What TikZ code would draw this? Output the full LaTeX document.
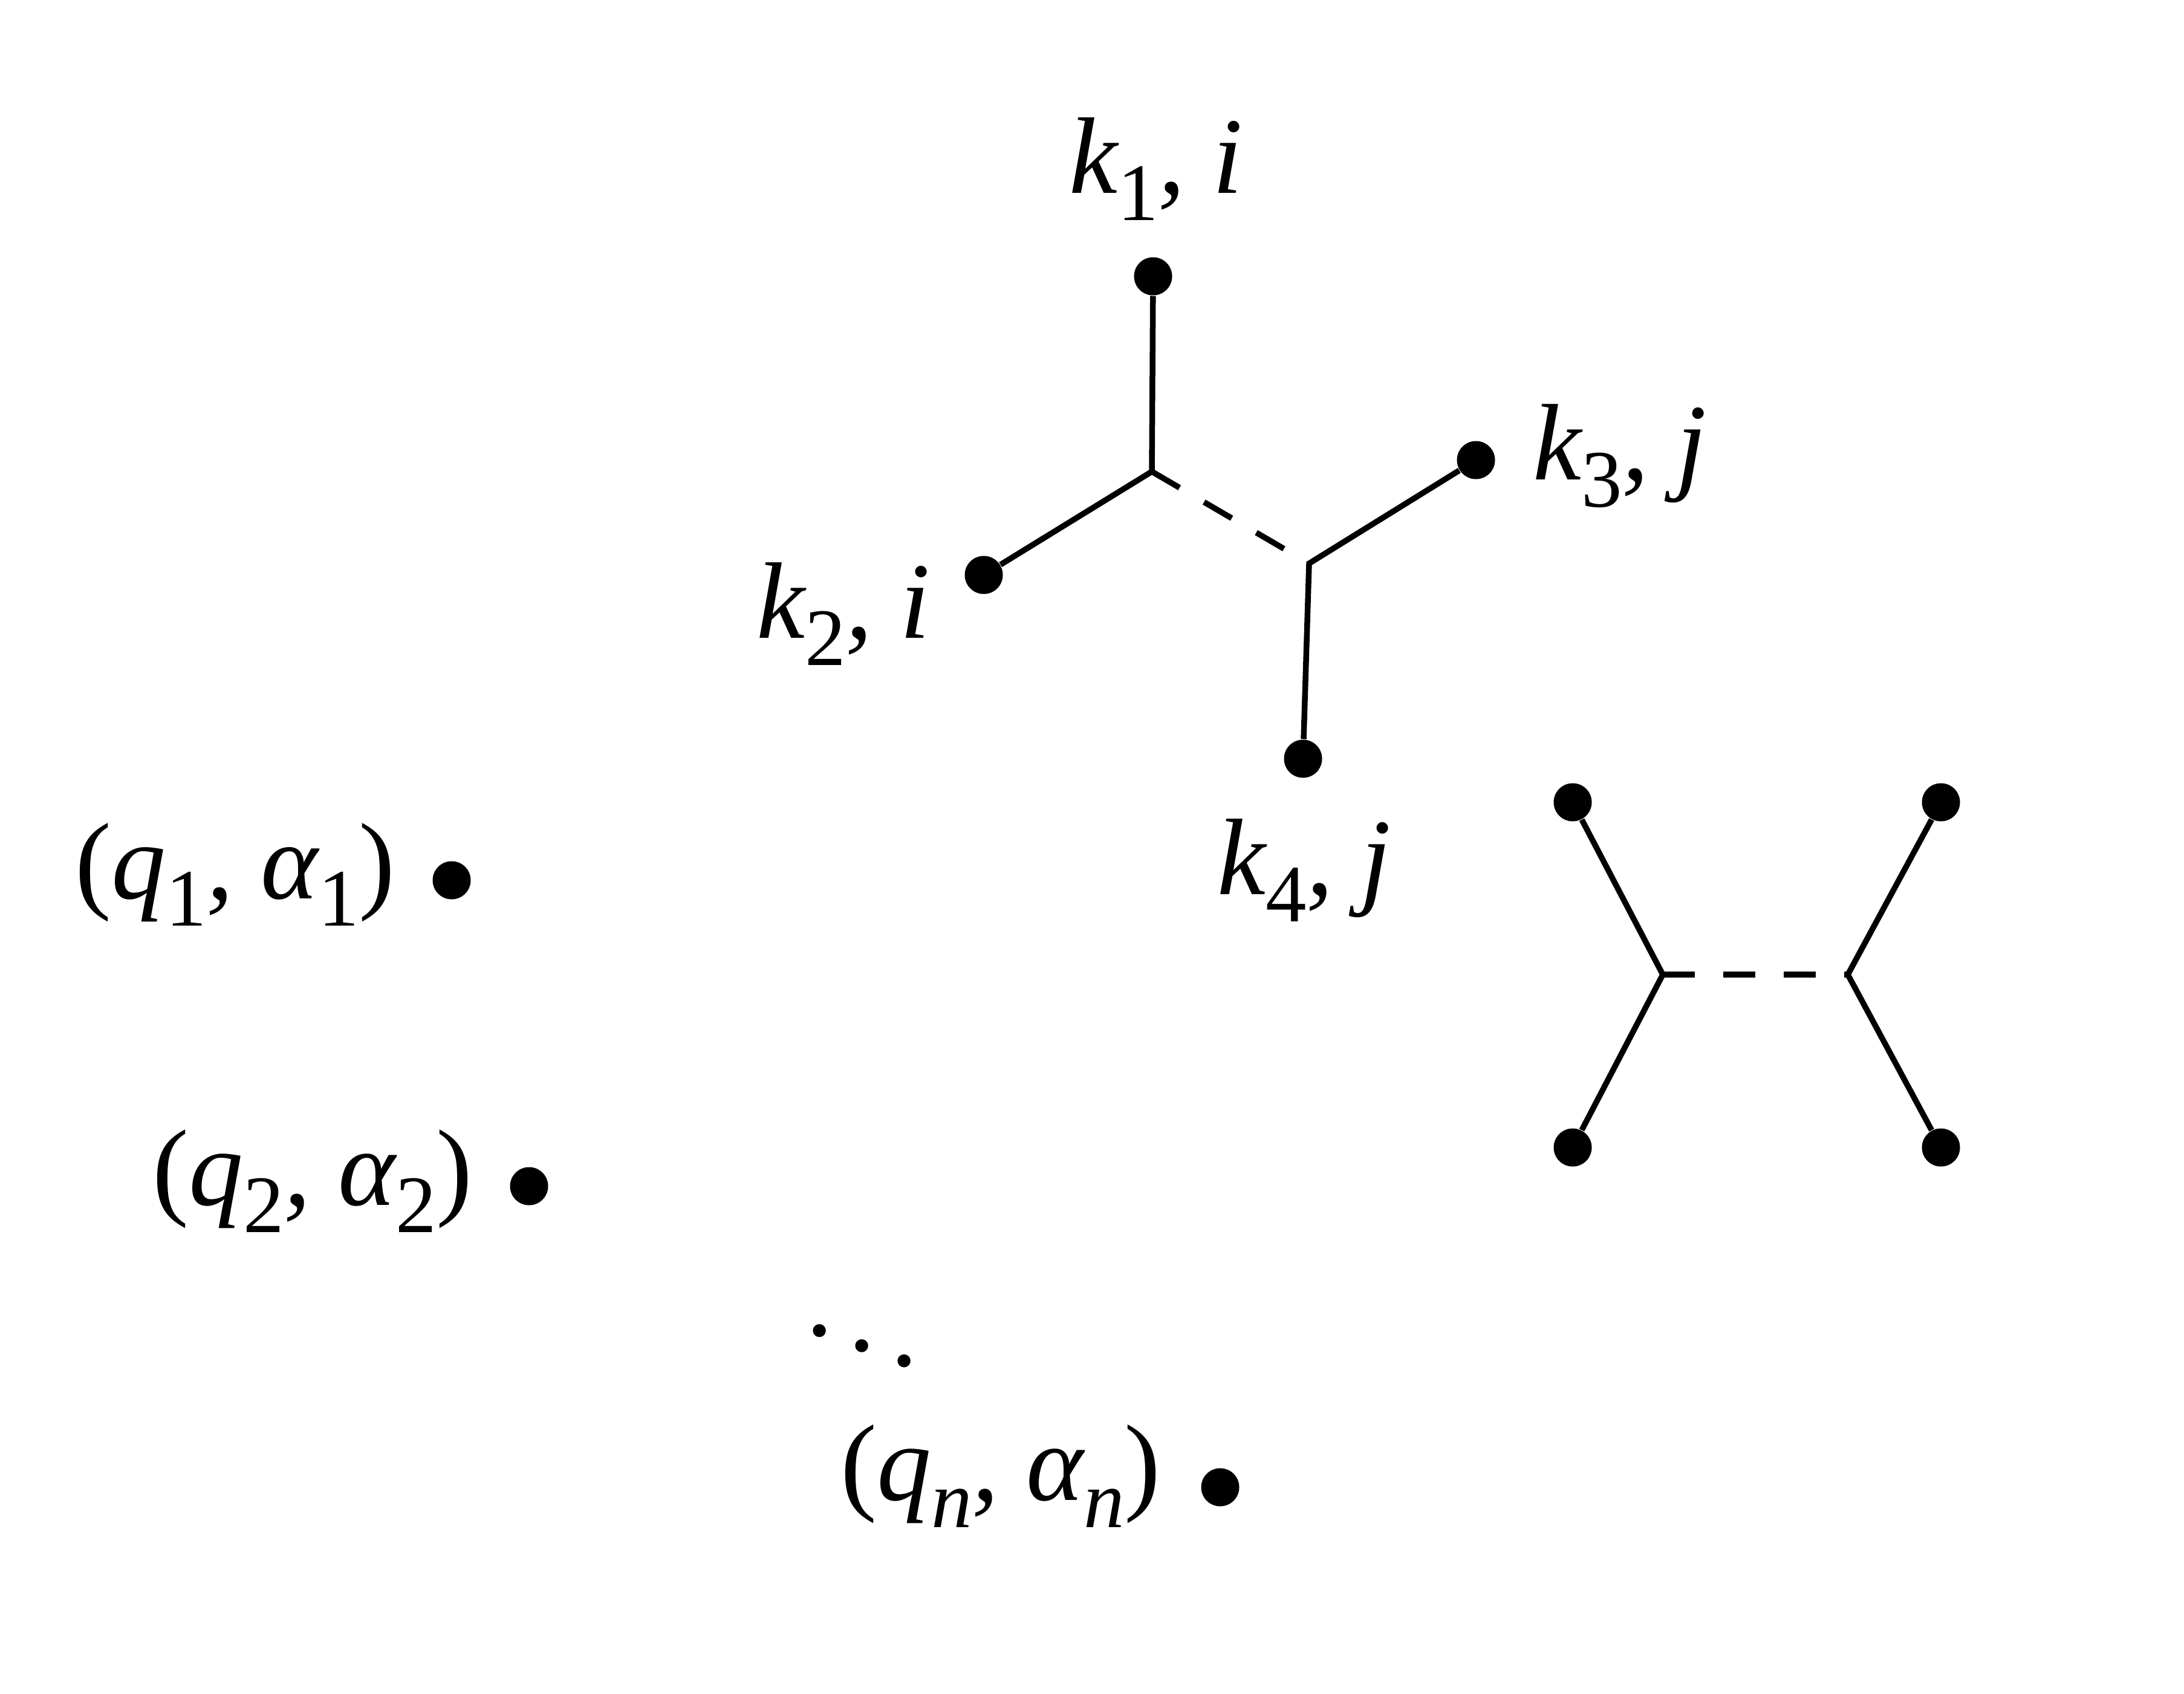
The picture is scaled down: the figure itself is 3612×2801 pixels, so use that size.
\documentclass[tikz,border=0pt]{standalone}
\usepackage{fontspec}
\setmainfont{Liberation Serif}
\usepackage{tikz}
\tikzset{
    end-dot/.style = {circle, fill=black, inner sep=0pt, minimum size=12.6pt},
    leg-line/.style = {line width=1.9pt},
    prop-line/.style = {line width=1.9pt, dash pattern=on 10.6pt off 9.4pt},
    leg-label/.style = {anchor=base, inner sep=0pt, font=\fontsize{36}{40}\selectfont\itshape},
}
\newcommand{\lsub}[1]{\raisebox{-9pt}{\fontsize{27}{30}\selectfont\upshape #1}}
\newcommand{\lpar}[1]{{\upshape(}#1{\upshape)}}

\begin{document}
\begin{tikzpicture}[x=0.2pt, y=-0.2pt]
\useasboundingbox (0,0) rectangle (3612,2801);
% upper exchange
\node[end-dot] (k1) at (1907,457) {};
\node[end-dot] (k2) at (1627,951) {};
\node[end-dot] (k3) at (2441,761) {};
\node[end-dot] (k4) at (2155,1255) {};
\coordinate (va) at (1905,780);
\coordinate (vb) at (2165,932);
\draw[leg-line] (k1) -- (va) -- (k2);
\draw[leg-line] (k3) -- (vb) -- (k4);
\draw[prop-line] (va) -- (vb);
\node[leg-label] (k1-lbl) at (1912,319) {k\lsub{1}, i};
\node[leg-label] (k2-lbl) at (1395,1055) {k\lsub{2}, i};
\node[leg-label] (k3-lbl) at (2679,793) {k\lsub{3}, j};
\node[leg-label] (k4-lbl) at (2157,1479) {k\lsub{4}, j};

% right exchange
\node[end-dot] (p1) at (2601,1327) {};
\node[end-dot] (p2) at (3210,1327) {};
\node[end-dot] (p3) at (2601,1898) {};
\node[end-dot] (p4) at (3210,1898) {};
\coordinate (vc) at (2750,1612);
\coordinate (vd) at (3056,1612);
\draw[leg-line] (p1) -- (vc) -- (p3);
\draw[leg-line] (p2) -- (vd) -- (p4);
\draw[prop-line] (vc) -- (vd);

% sources
\node[end-dot] (s1) at (747,1456) {};
\node[end-dot] (s2) at (875,1962) {};
\node[end-dot] (sn) at (2018,2460) {};
\node[leg-label] (s1-lbl) at (389,1486) {\lpar{q\lsub{1}, α\lsub{1}}};
\node[leg-label] (s2-lbl) at (517,1993) {\lpar{q\lsub{2}, α\lsub{2}}};
\node[leg-label] (sn-lbl) at (1655,2481) {\lpar{q\lsub{\itshape n}, α\lsub{\itshape n}}};
\node[leg-label] (dots) at (1430,2234) {\raisebox{5pt}{.}\kern5pt.\kern5pt\raisebox{-5pt}{.}};
\end{tikzpicture}
\end{document}
